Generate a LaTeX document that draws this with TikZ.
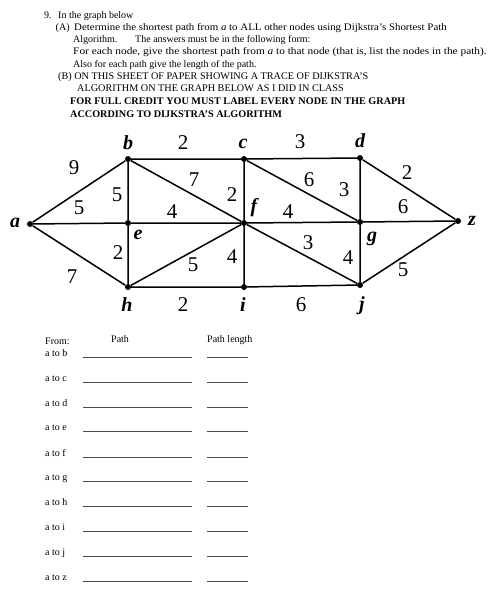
\documentclass[tikz,border=0pt]{standalone}
\usepackage{fontspec}
\setmainfont{Liberation Serif}
\tikzset{
  vtx/.style={circle,fill=black,inner sep=0pt,minimum size=6pt},
  vlab/.style={inner sep=0pt,font=\fontsize{20}{24}\selectfont\bfseries\itshape},
  wlab/.style={inner sep=0pt,font=\fontsize{21}{24}\selectfont},
  edge/.style={line width=1.5pt},
  txt/.style={anchor=base west,inner sep=0pt,font=\fontsize{10}{12}\selectfont},
  ctxt/.style={anchor=base west,inner sep=0pt,font=\fontsize{10.2}{12}\selectfont},
  btxt/.style={anchor=base west,inner sep=0pt,font=\fontsize{10.2}{12}\selectfont\bfseries},
  blank/.style={draw=black!70,line width=0.7pt}
}
\begin{document}
\begin{tikzpicture}[x=1pt,y=-1pt]
\useasboundingbox[fill=white] (0,0) rectangle (491,602);
% header text
\node[txt] (t0) at (44,18.5) {9.};
\node[txt] (t1) at (58,18.5) {In the graph below};
\node[txt] (t2a) at (55.5,30.5) {(A)};
\node[txt] (t2) at (74,30.5) {\scalebox{1.09}[1]{Determine the shortest path from \textit{a} to ALL other nodes using Dijkstra's Shortest Path}};
\node[txt] (t3) at (73,42.5) {Algorithm.};
\node[txt] (t3b) at (135,42.5) {The answers must be in the following form:};
\node[txt] (t4) at (73,54.5) {\scalebox{1.135}[1]{For each node, give the shortest path from \textit{a} to that node (that is, list the nodes in the path).}};
\node[txt] (t5) at (73,67) {Also for each path give the length of the path.};
\node[ctxt] (t6) at (58,79.5) {(B) ON THIS SHEET OF PAPER SHOWING A TRACE OF DIJKSTRA'S};
\node[ctxt] (t7) at (77,91.5) {ALGORITHM ON THE GRAPH BELOW AS I DID IN CLASS};
\node[btxt] (t8) at (70,104.5) {FOR FULL CREDIT YOU MUST LABEL EVERY NODE IN THE GRAPH};
\node[btxt] (t9) at (70,117) {ACCORDING TO DIJKSTRA'S ALGORITHM};
% vertices
\node[vtx] (a) at (30,224) {};
\node[vtx] (b) at (128,159) {};
\node[vtx] (c) at (244,159) {};
\node[vtx] (d) at (360,158) {};
\node[vtx] (e) at (128,223) {};
\node[vtx] (f) at (244,223) {};
\node[vtx] (g) at (360,222) {};
\node[vtx] (h) at (128,287) {};
\node[vtx] (i) at (244,287) {};
\node[vtx] (j) at (360,285) {};
\node[vtx] (z) at (458,221) {};
% edges
\draw[edge] (a) -- (b) (a) -- (e) (a) -- (h)
  (b) -- (c) (b) -- (e) (b) -- (f)
  (c) -- (f) (c) -- (d) (c) -- (g)
  (d) -- (g) (d) -- (z)
  (e) -- (f) (e) -- (h) (h) -- (f)
  (h) -- (i) (f) -- (i) (f) -- (g) (f) -- (j)
  (g) -- (z) (g) -- (j) (i) -- (j) (j) -- (z);
% vertex labels
\node[vlab] (la) at (15,223) {a};
\node[vlab] (lb) at (128,143) {b};
\node[vlab] (lc) at (243,144) {c};
\node[vlab] (ld) at (360,141) {d};
\node[vlab] (le) at (138,235) {e};
\node[vlab] (lf) at (254,208) {f};
\node[vlab] (lg) at (372,239) {g};
\node[vlab] (lh) at (127,305) {h};
\node[vlab] (li) at (243,305) {i};
\node[vlab] (lj) at (362,306) {j};
\node[vlab] (lz) at (472,221) {z};
% weights
\node[wlab] (w1) at (74,168) {9};
\node[wlab] (w2) at (79,208) {5};
\node[wlab] (w3) at (117,195) {5};
\node[wlab] (w4) at (194,180) {7};
\node[wlab] (w5) at (232,195) {2};
\node[wlab] (w6) at (172,212) {4};
\node[wlab] (w7) at (118,253) {2};
\node[wlab] (w8) at (193,265) {5};
\node[wlab] (w9) at (232,257) {4};
\node[wlab] (w10) at (72,277) {7};
\node[wlab] (w11) at (183,143) {2};
\node[wlab] (w12) at (300,142) {3};
\node[wlab] (w13) at (309,180) {6};
\node[wlab] (w14) at (344,190) {3};
\node[wlab] (w15) at (288,212) {4};
\node[wlab] (w16) at (407,173) {2};
\node[wlab] (w17) at (403,207) {6};
\node[wlab] (w18) at (308,243) {3};
\node[wlab] (w19) at (348,258) {4};
\node[wlab] (w20) at (403,270) {5};
\node[wlab] (w21) at (183,305) {2};
\node[wlab] (w22) at (301,305) {6};
% table
\node[txt] (from) at (45,344.5) {From:};
\node[txt] (path) at (111,342.5) {Path};
\node[txt] (plen) at (207,342.5) {Path length};
\foreach \n/\y in {b/353,c/378,d/403,e/427,f/453,g/477,h/502,i/527,j/552,z/577}{
  \node[txt] (r\n) at (45,\y+3.5) {a to \n};
  \coordinate (p1\n) at (83,\y+4.5);
  \coordinate (p2\n) at (192,\y+4.5);
  \coordinate (q1\n) at (207,\y+4.5);
  \coordinate (q2\n) at (248,\y+4.5);
  \draw[blank] (p1\n) -- (p2\n);
  \draw[blank] (q1\n) -- (q2\n);
}
\end{tikzpicture}
\end{document}
